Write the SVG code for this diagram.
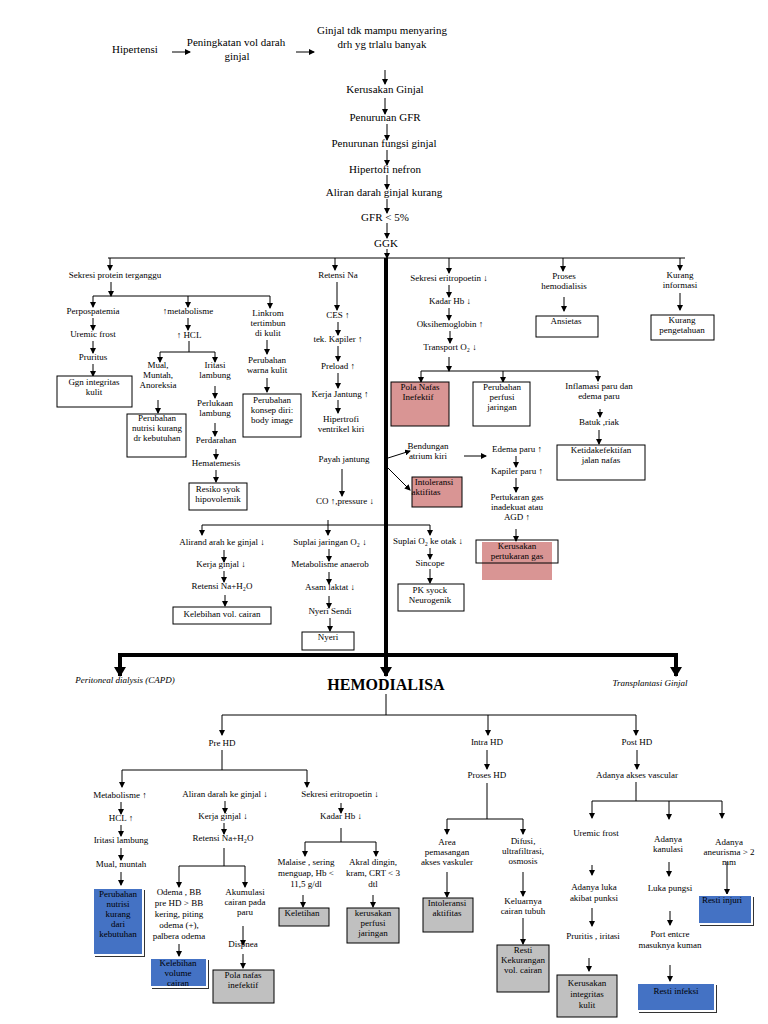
<svg xmlns="http://www.w3.org/2000/svg" width="768" height="1024" viewBox="0 0 768 1024">
<defs>
<marker id="ah" markerWidth="6" markerHeight="6" refX="5" refY="3" orient="auto" markerUnits="userSpaceOnUse"><path d="M0,0 L6,3 L0,6 z" fill="#000"/></marker>
<marker id="ahb" markerWidth="10" markerHeight="12" refX="9" refY="6" orient="auto" markerUnits="userSpaceOnUse"><path d="M0,0 L10,6 L0,12 z" fill="#000"/></marker>
</defs>
<style>
text{font-family:"Liberation Serif",serif;font-size:9px;text-anchor:middle;fill:#000}
.l{font-size:11px}
.c line,.c path{stroke:#000;stroke-width:1;fill:none}
.a{marker-end:url(#ah)}
.th{stroke-width:4 !important}
.thb{stroke-width:4 !important;marker-end:url(#ahb)}
.w{fill:#fff;stroke:#000;stroke-width:1}
.p{fill:#d99594;stroke:#000;stroke-width:1}
.g{fill:#c0c0c0;stroke:#000;stroke-width:1}
.b{fill:#4472c4;stroke:#fff;stroke-width:2}
.bs{fill:#333}
</style>
<rect width="768" height="1024" fill="#fff"/>

<g class="c">
<line class="a" x1="172" y1="52" x2="190" y2="52"/>
<line class="a" x1="296" y1="52" x2="314" y2="52"/>
<line class="a" x1="385" y1="70" x2="385" y2="84"/>
<line class="a" x1="385" y1="98" x2="385" y2="114"/>
<line class="a" x1="387" y1="124" x2="387" y2="140"/>
<line class="a" x1="387" y1="150" x2="387" y2="165"/>
<line class="a" x1="387" y1="175" x2="387" y2="189"/>
<line class="a" x1="387" y1="199" x2="387" y2="213"/>
<line class="a" x1="387" y1="223" x2="387" y2="238"/>
<line class="a" x1="387" y1="249" x2="387" y2="258"/>
<line x1="108" y1="258" x2="685" y2="258"/>
<line class="a" x1="110" y1="258" x2="110" y2="270"/>
<line class="a" x1="335" y1="258" x2="335" y2="270"/>
<line class="a" x1="449" y1="258" x2="449" y2="273"/>
<line class="a" x1="563" y1="258" x2="563" y2="271"/>
<line class="a" x1="680" y1="258" x2="680" y2="270"/>
<line class="th" x1="386" y1="258" x2="386" y2="655"/>
<!-- left col -->
<line class="a" x1="111" y1="282" x2="111" y2="296"/>
<line x1="93" y1="296" x2="270" y2="296"/>
<line class="a" x1="93" y1="296" x2="93" y2="307"/>
<line class="a" x1="188" y1="296" x2="188" y2="307"/>
<line class="a" x1="270" y1="296" x2="270" y2="308"/>
<line class="a" x1="93" y1="318" x2="93" y2="330"/>
<line class="a" x1="93" y1="341" x2="93" y2="353"/>
<line class="a" x1="93" y1="364" x2="93" y2="376"/>
<line class="a" x1="188" y1="318" x2="188" y2="330"/>
<line x1="189" y1="341" x2="189" y2="352"/>
<line x1="160" y1="352" x2="215" y2="352"/>
<line class="a" x1="160" y1="352" x2="160" y2="362"/>
<line class="a" x1="215" y1="352" x2="215" y2="362"/>
<line class="a" x1="158" y1="400" x2="158" y2="413"/>
<line class="a" x1="215" y1="386" x2="215" y2="398"/>
<line class="a" x1="215" y1="423" x2="215" y2="436"/>
<line class="a" x1="216" y1="449" x2="216" y2="459"/>
<line class="a" x1="216" y1="470" x2="216" y2="482"/>
<line class="a" x1="267" y1="340" x2="267" y2="354"/>
<line class="a" x1="267" y1="378" x2="267" y2="392"/>
<!-- retensi na -->
<line class="a" x1="337" y1="282" x2="337" y2="310"/>
<line class="a" x1="338" y1="322" x2="338" y2="335"/>
<line class="a" x1="338" y1="346" x2="338" y2="361"/>
<line class="a" x1="338" y1="373" x2="338" y2="388"/>
<line class="a" x1="338" y1="400" x2="338" y2="413"/>
<line class="a" x1="342" y1="469" x2="342" y2="496"/>
<line class="a" x1="388" y1="458" x2="410" y2="451"/>
<line class="a" x1="388" y1="468" x2="410" y2="490"/>
<!-- eritropoetin -->
<line class="a" x1="449" y1="285" x2="449" y2="297"/>
<line class="a" x1="449" y1="308" x2="449" y2="320"/>
<line class="a" x1="450" y1="331" x2="450" y2="343"/>
<line class="a" x1="449" y1="357" x2="449" y2="371"/>
<line x1="421" y1="371" x2="598" y2="371"/>
<line class="a" x1="421" y1="371" x2="421" y2="382"/>
<line class="a" x1="503" y1="371" x2="503" y2="382"/>
<line class="a" x1="598" y1="371" x2="598" y2="381"/>
<line class="a" x1="600" y1="409" x2="600" y2="417"/>
<line class="a" x1="599" y1="430" x2="599" y2="444"/>
<line class="a" x1="464" y1="456" x2="486" y2="456"/>
<line class="a" x1="516" y1="456" x2="516" y2="467"/>
<line class="a" x1="516" y1="478" x2="516" y2="492"/>
<line class="a" x1="516" y1="529" x2="516" y2="541"/>
<line class="a" x1="564" y1="297" x2="564" y2="311"/>
<line class="a" x1="680" y1="293" x2="680" y2="310"/>
<!-- mid left -->
<line x1="202" y1="525" x2="430" y2="525"/>
<line class="a" x1="202" y1="525" x2="202" y2="535"/>
<line class="a" x1="328" y1="520" x2="328" y2="535"/>
<line class="a" x1="430" y1="525" x2="430" y2="535"/>
<line class="a" x1="224" y1="550" x2="224" y2="562"/>
<line class="a" x1="224" y1="571" x2="224" y2="582"/>
<line class="a" x1="225" y1="595" x2="225" y2="606"/>
<line class="a" x1="329" y1="549" x2="329" y2="561"/>
<line class="a" x1="329" y1="572" x2="329" y2="584"/>
<line class="a" x1="329" y1="596" x2="329" y2="608"/>
<line class="a" x1="330" y1="618" x2="330" y2="631"/>
<line class="a" x1="430" y1="548" x2="430" y2="559"/>
<line class="a" x1="430" y1="569" x2="430" y2="583"/>
<!-- hemodialisa -->
<line class="th" x1="118" y1="655" x2="678" y2="655"/>
<line class="thb" x1="120" y1="655" x2="120" y2="676"/>
<line class="thb" x1="676" y1="655" x2="676" y2="676"/>
<line class="thb" x1="386" y1="655" x2="386" y2="676"/>
<line x1="386" y1="694" x2="386" y2="715"/>
<line x1="222" y1="715" x2="636" y2="715"/>
<line class="a" x1="222" y1="715" x2="222" y2="735"/>
<line class="a" x1="488" y1="715" x2="488" y2="735"/>
<line class="a" x1="636" y1="715" x2="636" y2="735"/>
<!-- pre HD -->
<line x1="222" y1="750" x2="222" y2="770"/>
<line x1="122" y1="770" x2="307" y2="770"/>
<line class="a" x1="122" y1="770" x2="122" y2="787"/>
<line class="a" x1="307" y1="770" x2="307" y2="787"/>
<line class="a" x1="121" y1="802" x2="121" y2="814"/>
<line class="a" x1="121" y1="825" x2="121" y2="836"/>
<line class="a" x1="121" y1="848" x2="121" y2="860"/>
<line class="a" x1="121" y1="872" x2="121" y2="885"/>
<line class="a" x1="225" y1="801" x2="225" y2="813"/>
<line class="a" x1="224" y1="823" x2="224" y2="834"/>
<line x1="224" y1="848" x2="224" y2="866"/>
<line x1="179" y1="866" x2="245" y2="866"/>
<line class="a" x1="179" y1="866" x2="179" y2="887"/>
<line class="a" x1="245" y1="866" x2="245" y2="887"/>
<line class="a" x1="179" y1="944" x2="179" y2="956"/>
<line class="a" x1="243" y1="926" x2="243" y2="945"/>
<line class="a" x1="243" y1="954" x2="243" y2="968"/>
<line class="a" x1="341" y1="803" x2="341" y2="813"/>
<line x1="341" y1="828" x2="341" y2="842"/>
<line x1="305" y1="842" x2="376" y2="842"/>
<line class="a" x1="305" y1="842" x2="305" y2="856"/>
<line class="a" x1="376" y1="842" x2="376" y2="856"/>
<line class="a" x1="303" y1="895" x2="303" y2="907"/>
<line class="a" x1="373" y1="895" x2="373" y2="907"/>
<!-- intra HD -->
<line class="a" x1="487" y1="750" x2="487" y2="769"/>
<line x1="487" y1="783" x2="487" y2="819"/>
<line x1="447" y1="819" x2="523" y2="819"/>
<line class="a" x1="447" y1="819" x2="447" y2="834"/>
<line class="a" x1="523" y1="819" x2="523" y2="834"/>
<line class="a" x1="447" y1="872" x2="447" y2="897"/>
<line class="a" x1="523" y1="872" x2="523" y2="896"/>
<line class="a" x1="523" y1="918" x2="523" y2="944"/>
<!-- post HD -->
<line class="a" x1="637" y1="750" x2="637" y2="769"/>
<line x1="636" y1="782" x2="636" y2="801"/>
<line x1="592" y1="801" x2="722" y2="801"/>
<line class="a" x1="592" y1="801" x2="592" y2="818"/>
<line class="a" x1="669" y1="801" x2="669" y2="819"/>
<line class="a" x1="722" y1="801" x2="722" y2="818"/>
<line class="a" x1="592" y1="865" x2="592" y2="875"/>
<line class="a" x1="592" y1="908" x2="592" y2="926"/>
<line class="a" x1="589" y1="958" x2="589" y2="971"/>
<line class="a" x1="669" y1="862" x2="669" y2="876"/>
<line class="a" x1="670" y1="911" x2="670" y2="925"/>
<line class="a" x1="670" y1="965" x2="670" y2="981"/>
<line class="a" x1="727" y1="862" x2="727" y2="894"/>
</g>

<g id="top">
<text class="l" x="135" y="53">Hipertensi</text>
<text class="l" x="236" y="46">Peningkatan vol darah</text><text class="l" x="237" y="60">ginjal</text>
<text class="l" x="382" y="34">Ginjal tdk mampu menyaring</text><text class="l" x="382" y="48">drh yg trlalu banyak</text>
<text class="l" x="385" y="93">Kerusakan Ginjal</text>
<text class="l" x="385" y="121">Penurunan GFR</text>
<text class="l" x="384" y="147">Penurunan fungsi ginjal</text>
<text class="l" x="385" y="173">Hipertofi nefron</text>
<text class="l" x="384" y="196">Aliran darah ginjal kurang</text>
<text class="l" x="385" y="221">GFR &lt; 5%</text>
<text class="l" x="386" y="247">GGK</text>
</g>

<g id="protein">
<text x="115" y="278">Sekresi protein terganggu</text>
<text x="93" y="314">Perpospatemia</text>
<text x="93" y="337">Uremic frost</text>
<text x="93" y="360">Pruritus</text>
<rect class="w" x="57" y="376" width="75" height="31"/><text x="94" y="385">Ggn integritas</text><text x="94" y="395">kulit</text>
<text x="188" y="314">↑metabolisme</text>
<text x="189" y="338">↑ HCL</text>
<text x="158" y="368">Mual,</text><text x="158" y="378">Muntah,</text><text x="158" y="388">Anoreksia</text>
<rect class="w" x="127" y="414" width="59" height="43"/><text x="157" y="421">Perubahan</text><text x="157" y="431">nutrisi kurang</text><text x="157" y="441">dr kebutuhan</text>
<text x="215" y="368">Iritasi</text><text x="215" y="378">lambung</text>
<text x="215" y="406">Perlukaan</text><text x="215" y="416">lambung</text>
<text x="216" y="443">Perdarahan</text>
<text x="216" y="466">Hematemesis</text>
<rect class="w" x="189" y="483" width="58" height="27"/><text x="218" y="492">Resiko syok</text><text x="218" y="502">hipovolemik</text>
<text x="268" y="316">Linkrom</text><text x="268" y="326">tertimbun</text><text x="268" y="336">di kulit</text>
<text x="267" y="363">Perubahan</text><text x="267" y="373">warna kulit</text>
<rect class="w" x="243" y="394" width="58" height="43"/><text x="272" y="403">Perubahan</text><text x="272" y="413">konsep diri:</text><text x="272" y="423">body image</text>
</g>

<g id="retensi">
<text x="338" y="278">Retensi Na</text>
<text x="338" y="318">CES ↑</text>
<text x="338" y="342">tek. Kapiler ↑</text>
<text x="338" y="369">Preload ↑</text>
<text x="340" y="397">Kerja Jantung ↑</text>
<text x="341" y="422">Hipertrofi</text><text x="341" y="432">ventrikel kiri</text>
<text x="344" y="462">Payah jantung</text>
<text x="345" y="504">CO ↑,pressure ↓</text>
</g>

<g id="eritro">
<text x="449" y="281">Sekresi eritropoetin ↓</text>
<text x="450" y="304">Kadar Hb ↓</text>
<text x="450" y="327">Oksihemoglobin ↑</text>
<text x="450" y="350">Transport O₂ ↓</text>
<rect class="p" x="391" y="382" width="58" height="44"/><text x="420" y="390">Pola Nafas</text><text x="418" y="400">Inefektif</text>
<rect class="w" x="473" y="382" width="57" height="44"/><text x="502" y="390">Perubahan</text><text x="502" y="400">perfusi</text><text x="502" y="410">jaringan</text>
<text x="599" y="389">Inflamasi paru dan</text><text x="599" y="399">edema paru</text>
<text x="599" y="425">Batuk ,riak</text>
<rect class="w" x="557" y="445" width="88" height="35"/><text x="601" y="453">Ketidakefektifan</text><text x="601" y="463">jalan nafas</text>
<text x="428" y="449">Bendungan</text><text x="428" y="459">atrium kiri</text>
<rect class="p" x="412" y="477" width="50" height="30"/><text x="434" y="485">Intoleransi</text><text x="426" y="495">aktifitas</text>
<text x="517" y="452">Edema paru ↑</text>
<text x="517" y="474">Kapiler paru ↑</text>
<text x="517" y="500">Pertukaran gas</text><text x="517" y="510">inadekuat atau</text><text x="517" y="520">AGD ↑</text>
<rect fill="#d99594" x="482" y="542" width="70" height="38"/>
<rect fill="none" stroke="#000" x="476" y="540" width="82" height="23"/><text x="517" y="549">Kerusakan</text><text x="517" y="559">pertukaran gas</text>
<text x="564" y="279">Proses</text><text x="564" y="289">hemodialisis</text>
<rect class="w" x="536" y="316" width="62" height="21"/><text x="566" y="324">Ansietas</text>
<text x="680" y="278">Kurang</text><text x="680" y="288">informasi</text>
<rect class="w" x="651" y="315" width="63" height="25"/><text x="682" y="323">Kurang</text><text x="682" y="333">pengetahuan</text>
</g>

<g id="mid">
<text x="222" y="545">Alirand arah ke ginjal ↓</text>
<text x="221" y="567">Kerja ginjal ↓</text>
<text x="222" y="589">Retensi Na+H₂O</text>
<rect class="w" x="173" y="607" width="98" height="17"/><text x="222" y="617">Kelebihan vol. cairan</text>
<text x="330" y="545">Suplai jaringan O₂ ↓</text>
<text x="330" y="567">Metabolisme anaerob</text>
<text x="330" y="590">Asam laktat ↓</text>
<text x="330" y="614">Nyeri Sendi</text>
<rect class="w" x="302" y="632" width="52" height="18"/><text x="328" y="640">Nyeri</text>
<text x="428" y="544">Suplai O₂ ke otak ↓</text>
<text x="430" y="566">Sincope</text>
<rect class="w" x="398" y="584" width="66" height="27"/><text x="430" y="593">PK syock</text><text x="430" y="603">Neurogenik</text>
</g>

<g id="hemo">
<text x="125" y="683" style="font-style:italic">Peritoneal dialysis (CAPD)</text>
<text x="650" y="686" style="font-style:italic">Transplantasi Ginjal</text>
<text x="386" y="690" style="font-size:16px;font-weight:bold">HEMODIALISA</text>
</g>

<g id="prehd">
<text x="222" y="746">Pre HD</text>
<text x="120" y="798">Metabolisme ↑</text>
<text x="121" y="821">HCL ↑</text>
<text x="121" y="843">Iritasi lambung</text>
<text x="121" y="867">Mual, muntah</text>
<rect class="bs" x="95" y="890" width="50" height="67"/><rect class="b" x="93" y="888" width="50" height="67"/>
<text x="118" y="897">Perubahan</text><text x="118" y="907">nutrisi</text><text x="118" y="917">kurang</text><text x="118" y="927">dari</text><text x="118" y="937">kebutuhan</text>
<text x="225" y="797">Aliran darah ke ginjal ↓</text>
<text x="223" y="819">Kerja ginjal ↓</text>
<text x="223" y="841">Retensi Na+H₂O</text>
<text x="179" y="895">Odema , BB</text><text x="179" y="906">pre HD &gt; BB</text><text x="179" y="917">kering, piting</text><text x="179" y="928">odema (+),</text><text x="179" y="939">palbera odema</text>
<rect class="bs" x="152" y="960" width="57" height="29"/><rect class="b" x="150" y="958" width="57" height="29"/>
<text x="178" y="966">Kelebihan</text><text x="178" y="976">volume</text><text x="178" y="986">cairan</text>
<text x="245" y="895">Akumulasi</text><text x="245" y="905">cairan pada</text><text x="245" y="915">paru</text>
<text x="243" y="947">Dispnea</text>
<rect class="g" x="213" y="970" width="61" height="33"/><text x="243" y="978">Pola nafas</text><text x="243" y="988">inefektif</text>
<text x="340" y="797">Sekresi eritropoetin ↓</text>
<text x="341" y="819">Kadar Hb ↓</text>
<text x="306" y="865">Malaise , sering</text><text x="306" y="876">menguap, Hb &lt;</text><text x="306" y="887">11,5 g/dl</text>
<text x="373" y="865">Akral dingin,</text><text x="373" y="876">kram, CRT &lt; 3</text><text x="373" y="887">dtl</text>
<rect class="g" x="279" y="908" width="50" height="18"/><text x="302" y="916">Keletihan</text>
<rect class="g" x="347" y="908" width="52" height="35"/><text x="373" y="916">kerusakan</text><text x="373" y="926">perfusi</text><text x="373" y="936">jaringan</text>
</g>

<g id="intrahd">
<text x="487" y="745">Intra HD</text>
<text x="487" y="778">Proses HD</text>
<text x="447" y="845">Area</text><text x="447" y="855">pemasangan</text><text x="447" y="865">akses vaskuler</text>
<rect class="g" x="423" y="898" width="50" height="34"/><text x="447" y="906">Intoleransi</text><text x="447" y="916">aktifitas</text>
<text x="523" y="844">Difusi,</text><text x="523" y="854">ultrafiltrasi,</text><text x="523" y="864">osmosis</text>
<text x="523" y="904">Keluarnya</text><text x="523" y="914">cairan tubuh</text>
<rect class="g" x="497" y="945" width="52" height="47"/><text x="523" y="953">Resti</text><text x="523" y="963">Kekurangan</text><text x="523" y="973">vol. cairan</text>
</g>

<g id="posthd">
<text x="637" y="745">Post HD</text>
<text x="637" y="778">Adanya akses vascular</text>
<text x="596" y="836">Uremic frost</text>
<text x="594" y="890">Adanya luka</text><text x="594" y="901">akibat punksi</text>
<text x="593" y="939">Pruritis , iritasi</text>
<rect class="g" x="557" y="975" width="60" height="42"/><text x="587" y="986">Kerusakan</text><text x="587" y="997">integritas</text><text x="587" y="1008">kulit</text>
<text x="668" y="842">Adanya</text><text x="668" y="852">kanulasi</text>
<text x="670" y="891">Luka pungsi</text>
<text x="670" y="937">Port entcre</text><text x="670" y="948">masuknya kuman</text>
<rect class="bs" x="639" y="985" width="78" height="28"/><rect class="b" x="637" y="983" width="78" height="28"/><text x="676" y="994">Resti infeksi</text>
<text x="729" y="845">Adanya</text><text x="729" y="855">aneurisma &gt; 2</text><text x="729" y="865">mm</text>
<rect class="bs" x="700" y="897" width="54" height="29"/><rect class="b" x="698" y="895" width="54" height="29"/><text x="722" y="903">Resti injuri</text>
</g>
</svg>
